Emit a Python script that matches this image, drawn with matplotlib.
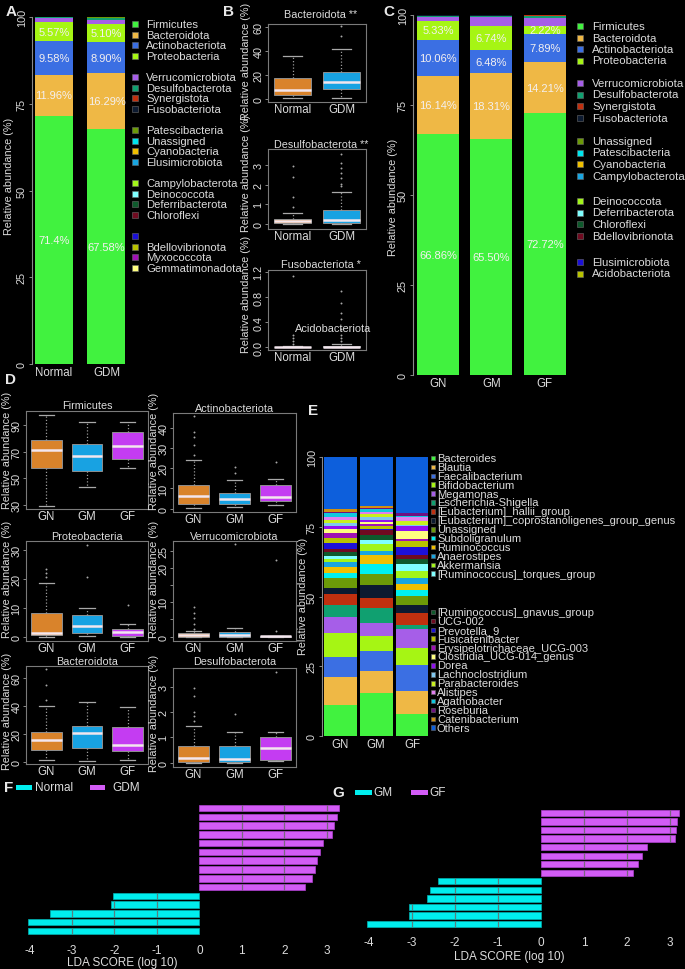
import numpy as np
import matplotlib
matplotlib.use('Agg')
import matplotlib.pyplot as plt
from matplotlib.patches import Rectangle

# ---------------- data ----------------
A_groups = ['Normal', 'GDM']
A_phyla = ['Firmicutes', 'Bacteroidota', 'Actinobacteriota', 'Proteobacteria',
           'Verrucomicrobiota', 'Desulfobacterota', 'Synergistota', 'Fusobacteriota',
           'Patescibacteria', 'Unassigned', 'Cyanobacteria', 'Elusimicrobiota',
           'Campylobacterota', 'Deinococcota', 'Deferribacterota', 'Chloroflexi',
           '', 'Bdellovibrionota', 'Myxococcota', 'Gemmatimonadota']
A_colors = ['#41f23f', '#efb845', '#3b6fe3', '#a6f514',
            '#a65ee8', '#10a070', '#c0300f', '#0c1a30',
            '#6c9a08', '#00e6ee', '#f0c000', '#19a5e0',
            '#a2f51a', '#80ffff', '#0e5a2c', '#700a20',
            '#1c10d8', '#b8c200', '#a012b4', '#ffff80']
A_normal = [71.4, 11.96, 9.58, 5.57, 1.1, 0.25, 0.03, 0.03, 0.02, 0.02,
            0.01, 0.01, 0.01, 0.01, 0.01, 0.01, 0.01, 0.01, 0.0, 0.0]
A_gdm = [67.58, 16.29, 8.90, 5.10, 1.4, 0.4, 0.1, 0.06, 0.05, 0.04,
         0.02, 0.02, 0.02, 0.01, 0.01, 0.01, 0.01, 0.01, 0.01, 0.0]
A_labels = [['71.4%', '11.96%', '9.58%', '5.57%'],
            ['67.58%', '16.29%', '8.90%', '5.10%']]

C_groups = ['GN', 'GM', 'GF']
C_phyla = ['Firmicutes', 'Bacteroidota', 'Actinobacteriota', 'Proteobacteria',
           'Verrucomicrobiota', 'Desulfobacterota', 'Synergistota', 'Fusobacteriota',
           'Unassigned', 'Patescibacteria', 'Cyanobacteria', 'Campylobacterota',
           'Deinococcota', 'Deferribacterota', 'Chloroflexi', 'Bdellovibrionota',
           'Elusimicrobiota', 'Acidobacteriota']
C_colors = ['#41f23f', '#efb845', '#3b6fe3', '#a6f514',
            '#a65ee8', '#10a070', '#c0300f', '#0c1a30',
            '#6c9a08', '#00e6ee', '#f0c000', '#19a5e0',
            '#a2f51a', '#80ffff', '#0e5a2c', '#700a20',
            '#1c10d8', '#b8c200']
C_gn = [66.86, 16.14, 10.06, 5.33, 1.1, 0.3, 0.05, 0.05, 0.03, 0.02, 0.02, 0.01, 0.01, 0.01, 0.01, 0.0, 0.0, 0.0]
C_gm = [65.50, 18.31, 6.48, 6.74, 2.4, 0.25, 0.15, 0.05, 0.04, 0.03, 0.02, 0.02, 0.01, 0.0, 0.0, 0.0, 0.0, 0.0]
C_gf = [72.72, 14.21, 7.89, 2.22, 2.2, 0.6, 0.05, 0.05, 0.03, 0.02, 0.01, 0.01, 0.0, 0.0, 0.0, 0.0, 0.0, 0.0]
C_labels = [['66.86%', '16.14%', '10.06%', '5.33%'],
            ['65.50%', '18.31%', '6.48%', '6.74%'],
            ['72.72%', '14.21%', '7.89%', '2.22%']]

B_titles = ['Bacteroidota **', 'Desulfobacterota **', 'Fusobacteriota *']
B_groups = ['Normal', 'GDM']
B_lo = [[0.3, 0.3], [0.0, 0.0], [0.0, 0.0]]
B_q1 = [[2.9, 8.2], [0.03, 0.03], [0.0, 0.002]]
B_med = [[7.4, 14.0], [0.13, 0.22], [0.005, 0.01]]
B_q3 = [[17.0, 22.4], [0.28, 0.72], [0.012, 0.03]]
B_hi = [[36.0, 42.0], [0.55, 1.62], [0.025, 0.06]]
B_fl = [[[], [53.0, 61.4]],
        [[0.88, 1.35, 2.4, 2.96], [1.95, 2.05, 2.35, 2.6, 2.85, 3.1, 3.55]],
        [[0.06, 0.1, 0.15, 0.2, 1.13], [0.1, 0.15, 0.2, 0.3, 0.45, 0.55, 0.7, 0.89]]]

D_titles = ['Firmicutes', 'Actinobacteriota', 'Proteobacteria',
            'Verrucomicrobiota', 'Bacteroidota', 'Desulfobacterota']
D_groups = ['GN', 'GM', 'GF']
D_lo = [[29.3, 43, 57.3], [0.3, 0.8, 1.7], [0, 0.3, 0], [0, 0, 0], [1.2, 0.7, 1.2], [0, 0, 0.05]]
D_q1 = [[57.3, 55, 64.3], [2.5, 2.5, 3.6], [0.6, 1.2, 0.35], [0, 0, 0], [8.4, 9.8, 7.4], [0.03, 0.03, 0.09]]
D_med = [[71, 66.8, 73.8], [6.3, 4.6, 5.6], [1.5, 3.6, 1.7], [0.5, 0.4, 0.1], [15.6, 20.3, 12], [0.2, 0.16, 0.58]]
D_q3 = [[78.5, 76, 85], [11.6, 7.8, 11.6], [8.1, 7.5, 2.9], [1.0, 1.3, 0.2], [21, 25.4, 24.6], [0.64, 0.66, 1.0]]
D_hi = [[97.2, 92.5, 92.5], [24.3, 14, 14.9], [18.5, 10.1, 4.3], [1.6, 2.6, 0.3], [40.2, 43, 39.5], [1.43, 1.2, 1.2]]
D_fl = [[[], [], []],
        [[26.4, 31.7, 35.5, 38, 46], [17.7, 20.7], [23.1]],
        [[20.5, 21.9, 23.4], [20.5, 31.7], [11.1]],
        [[2.3, 3.7, 5.4, 6.9, 8.6], [27.0], [1.5, 22.5]],
        [[44.3, 55.3, 66.5], [], []],
        [[1.66, 1.86, 2.0, 2.62, 2.94], [1.93], [3.6]]]

E_groups = ['GN', 'GM', 'GF']
E_genera = ['Bacteroides', 'Blautia', 'Faecalibacterium', 'Bifidobacterium', 'Megamonas',
            'Escherichia-Shigella', '[Eubacterium]_hallii_group',
            '[Eubacterium]_coprostanoligenes_group_genus', 'Unassigned', 'Subdoligranulum',
            'Ruminococcus', 'Anaerostipes', 'Akkermansia', '[Ruminococcus]_torques_group',
            '[Ruminococcus]_gnavus_group', 'UCG-002', 'Prevotella_9', 'Fusicatenibacter',
            'Erysipelotrichaceae_UCG-003', 'Clostridia_UCG-014_genus', 'Dorea',
            'Lachnoclostridium', 'Parabacteroides', 'Alistipes', 'Agathobacter',
            'Roseburia', 'Catenibacterium', 'Others']
E_colors = ['#41f23f', '#efb845', '#3b6fe3', '#a6f514', '#a65ee8', '#10a070', '#c0300f',
            '#0c1a30', '#6c9a08', '#00f0f0', '#f0c000', '#19a5e0', '#a2f51a', '#80ffff',
            '#0e5a2c', '#700a20', '#1c10d8', '#b8c200', '#a012b4', '#ffff80', '#9010f0',
            '#80c8f0', '#c8f020', '#e080f0', '#10c8e0', '#701080', '#d09010', '#0d5fdc']
E_gn = [11.1, 10.0, 7.2, 8.6, 5.8, 4.2, 3.9, 2.4, 3.3, 1.8, 2.3, 1.9, 1.1, 1.0,
        1.5, 1.1, 1.8, 1.8, 2.1, 1.2, 1.2, 1.0, 1.1, 1.0, 1.4, 0.6, 1.0, 18.6]
E_gm = [15.4, 7.9, 7.2, 5.4, 4.5, 5.6, 3.3, 5.0, 3.6, 3.6, 3.2, 1.6, 2.4, 1.4,
        1.9, 2.0, 0.2, 1.2, 0.6, 0.6, 0.9, 0.9, 1.0, 1.0, 0.9, 0.5, 0.6, 17.6]
E_gf = [7.9, 8.2, 9.3, 6.3, 6.6, 1.6, 4.2, 3.0, 3.2, 2.1, 2.0, 2.4, 2.4, 2.6,
        1.6, 1.4, 3.0, 2.1, 0.8, 2.7, 1.8, 0.5, 1.2, 1.5, 0.4, 1.0, 0.3, 19.9]

F_groups = ['Normal', 'GDM']
F_gdm = [3.29, 3.23, 3.16, 3.11, 2.90, 2.83, 2.76, 2.72, 2.65, 2.48]
F_normal = [-2.04, -2.09, -3.52, -4.03, -4.03]
G_groups = ['GM', 'GF']
G_gf = [3.21, 3.16, 3.14, 3.12, 2.46, 2.34, 2.25, 2.14]
G_gm = [-2.39, -2.58, -2.66, -3.07, -3.07, -4.04]
LDA_ticks = [-4, -3, -2, -1, 0, 1, 2, 3]

BOX_COLORS = ['#d9832b', '#18a2e2', '#c43cf2']
CYAN = '#00eeee'
PURP = '#d35cf6'

# ---------------- figure ----------------
W, H = 685, 970
plt.rcParams['font.family'] = ['Liberation Sans', 'DejaVu Sans']
plt.rcParams['axes.unicode_minus'] = False
fig = plt.figure(figsize=(W / 100, H / 100), dpi=100)
fig.patch.set_facecolor('black')

TXT = '#dcdcdc'
EDGE = '#8a8a8a'
FS = 7.8


def pxax(x0, y0, x1, y1):
    ax = fig.add_axes([x0 / W, 1 - y1 / H, (x1 - x0) / W, (y1 - y0) / H])
    ax.set_facecolor('black')
    return ax


ov = fig.add_axes([0, 0, 1, 1], zorder=20)
ov.set_xlim(0, W)
ov.set_ylim(H, 0)
ov.axis('off')
ov.patch.set_alpha(0)


def T(x, y, s, **kw):
    kw.setdefault('color', TXT)
    kw.setdefault('fontsize', FS)
    kw.setdefault('ha', 'center')
    kw.setdefault('va', 'center')
    ov.text(x, y, s, **kw)


def style_y(ax, ticks, labels=None, pad=1.2, length=2.5):
    ax.set_yticks(ticks)
    if labels is not None:
        ax.set_yticklabels(labels)
    ax.tick_params(axis='y', colors=EDGE, labelcolor=TXT, labelsize=FS,
                   length=length, width=0.7, pad=pad)
    for t in ax.get_yticklabels():
        t.set_rotation(90)
        t.set_va('center')


def stacked(ax, samples, colors, width, names, pct_labels=None):
    mat = np.array(samples, dtype=float)
    x = np.arange(mat.shape[0])
    bottom = np.zeros(mat.shape[0])
    for j, c in enumerate(colors):
        ax.bar(x, mat[:, j], bottom=bottom, width=width, color=c, linewidth=0)
        if pct_labels is not None and j < len(pct_labels[0]):
            for i in x:
                ax.text(i, bottom[i] + mat[i, j] / 2, pct_labels[i][j], ha='center',
                        va='center', color='#f4f0f0', fontsize=8)
        bottom += mat[:, j]
    ax.set_ylim(0, 100)
    for s in ['top', 'right', 'bottom']:
        ax.spines[s].set_visible(False)
    ax.spines['left'].set_color(EDGE)
    ax.spines['left'].set_bounds(0, 100)
    ax.set_xticks(x)
    ax.set_xticklabels(names)
    ax.tick_params(axis='x', length=0, pad=1.5, labelsize=8.3, labelcolor=TXT)
    style_y(ax, [0, 25, 50, 75, 100])


def boxpanel(ax, lo, q1, med, q3, hi, fl, names, ylim, yticks, ylabels=None):
    n = len(med)
    stats = [dict(whislo=lo[i], q1=q1[i], med=med[i], q3=q3[i], whishi=hi[i],
                  fliers=fl[i]) for i in range(n)]
    bp = ax.bxp(stats, positions=np.arange(1, n + 1), widths=0.76, patch_artist=True,
                capwidths=0.38, manage_ticks=False,
                boxprops=dict(edgecolor='#8e8e8e', linewidth=0.7),
                medianprops=dict(color='#f3e6ee', linewidth=1.8),
                whiskerprops=dict(color='#9a9a9a', linestyle=(0, (1, 1.6)), linewidth=0.9),
                capprops=dict(color='#a8a8a8', linewidth=0.9),
                flierprops=dict(marker='o', markersize=1.4, markerfacecolor='#a8a8a8',
                                markeredgecolor='none', linestyle='none'))
    for p, c in zip(bp['boxes'], BOX_COLORS):
        p.set_facecolor(c)
    ax.set_xlim(0.5, n + 0.5)
    ax.set_ylim(*ylim)
    ax.set_xticks(np.arange(1, n + 1))
    ax.set_xticklabels(names)
    ax.tick_params(axis='x', length=0, pad=1.0, labelsize=8.3, labelcolor=TXT)
    style_y(ax, yticks, ylabels, pad=0.8)
    for s in ax.spines.values():
        s.set_color('#7a7a7a')
        s.set_linewidth(0.8)


def legend_block(names, colors, x_sq, x_txt, ys, size, fs):
    for nme, c, y in zip(names, colors, ys):
        ov.add_patch(Rectangle((x_sq - size / 2, y - size / 2), size, size,
                               facecolor=c, edgecolor='#6a6a6a', lw=0.4))
        ov.text(x_txt, y, nme, color=TXT, fontsize=fs, va='center', ha='left')


def lda(ax, pos_vals, neg_vals, xlim, pad):
    vals = list(pos_vals) + list(neg_vals)
    cols = [PURP] * len(pos_vals) + [CYAN] * len(neg_vals)
    edges = ['#b040d0'] * len(pos_vals) + ['#00b0b0'] * len(neg_vals)
    y = np.arange(len(vals))
    ax.barh(y, vals, height=0.74, color=cols, edgecolor=edges, linewidth=0.5)
    for yi, v in zip(y, vals):
        ks = [np.sign(v) * k for k in range(1, 5) if k < abs(v) - 0.05]
        ax.vlines(ks, yi - 0.37, yi + 0.37, color='#6a6a6a', lw=0.9, alpha=0.85, zorder=3)
    ax.set_ylim(len(vals) - 0.5, -0.5)
    ax.set_xlim(*xlim)
    ax.set_xticks(LDA_ticks)
    ax.set_yticks([])
    for s in ax.spines.values():
        s.set_visible(False)
    ax.tick_params(axis='x', length=0, labelsize=8.5, labelcolor=TXT, pad=pad)


YL = 'Relative abundance (%)'

# ---- Panel A ----
axA = pxax(32, 18, 130, 365)
stacked(axA, [A_normal, A_gdm], A_colors, 0.724, A_groups, A_labels)
axA.set_xlim(-0.419, 1.448)
T(9, 176, YL, rotation=90)
T(11, 12, 'A', fontsize=11, fontweight='bold', color='#e8e8e8')
A_ys = [25 + (k // 4) * 53 + (k % 4) * 10.7 for k in range(len(A_phyla))]
legend_block(A_phyla, A_colors, 135, 146, A_ys, 6, 8.1)

# ---- Panel B ----
T(229, 12, 'B', fontsize=11, fontweight='bold', color='#e8e8e8')
B_boxes = [(268, 25, 366, 103), (268, 150, 366, 230), (268, 271, 366, 351)]
B_ylims = [(-2.9, 62.8), (-0.25, 3.8), (-0.04, 1.23)]
B_yticks = [[0, 20, 40, 60], [0, 1, 2, 3], [0.0, 0.4, 0.8, 1.2]]
B_ytl = [None, None, ['0.0', '0.4', '0.8', '1.2']]
B_title_y = [15, 145, 265]
B_ylab_y = [61, 173, 294]
for k in range(3):
    ax = pxax(*B_boxes[k])
    boxpanel(ax, B_lo[k], B_q1[k], B_med[k], B_q3[k], B_hi[k], B_fl[k], B_groups,
             B_ylims[k], B_yticks[k], B_ytl[k])
    T((B_boxes[k][0] + B_boxes[k][2]) / 2 + 4, B_title_y[k], B_titles[k])
    T(246, B_ylab_y[k], YL, rotation=90)
T(295, 329, 'Acidobacteriota', ha='left', fontsize=7.9)

# ---- Panel C ----
axC = pxax(413, 16, 570, 376)
stacked(axC, [C_gn, C_gm, C_gf], C_colors, 0.785, C_groups, C_labels)
axC.set_xlim(-0.467, 2.47)
T(393, 197, YL, rotation=90)
T(389, 12, 'C', fontsize=11, fontweight='bold', color='#e8e8e8')
C_starts = [27, 84, 142, 202, 263]
C_ys = [C_starts[k // 4] + (k % 4) * 11.5 for k in range(len(C_phyla))]
legend_block(C_phyla, C_colors, 580, 592, C_ys, 6, 8.2)

# ---- Panel D ----
T(11, 380, 'D', fontsize=11, fontweight='bold', color='#e8e8e8')
D_boxes = [(26, 412, 148, 510), (173, 414, 296, 513), (26, 542, 148, 642),
           (173, 542, 296, 642), (26, 667, 148, 765), (173, 669, 296, 768)]
D_ylims = [(26.75, 100.5), (-1.65, 47.4), (-1.4, 33), (-1.3, 28), (-1.7, 68.9), (-0.17, 3.74)]
D_yticks = [[30, 50, 70, 90], [0, 10, 20, 30, 40], [0, 10, 20, 30],
            [0, 5, 10, 15, 20, 25], [0, 20, 40, 60], [0, 1, 2, 3]]
D_ytl = [None, None, None, ['0', '', '10', '', '20', '25'], None, None]
D_title_y = [406, 409, 537, 537, 662, 662]
D_ylab = [(7, 450), (154, 451), (7, 579), (154, 579), (7, 711), (154, 713)]
for k in range(6):
    ax = pxax(*D_boxes[k])
    boxpanel(ax, D_lo[k], D_q1[k], D_med[k], D_q3[k], D_hi[k], D_fl[k], D_groups,
             D_ylims[k], D_yticks[k], D_ytl[k])
    T((D_boxes[k][0] + D_boxes[k][2]) / 2, D_title_y[k], D_titles[k])
    T(D_ylab[k][0], D_ylab[k][1], YL, rotation=90)

# ---- Panel E ----
axE = pxax(322, 458, 432, 737)
stacked(axE, [E_gn, E_gm, E_gf], E_colors, 0.92, E_groups)
axE.set_xlim(-0.517, 2.56)
T(303, 596, YL, rotation=90)
T(313, 411, 'E', fontsize=11, fontweight='bold', color='#e8e8e8')
E_ys = [(459 if k < 14 else 613) + (k % 14) * 8.9 for k in range(len(E_genera))]
legend_block(E_genera, E_colors, 433, 437, E_ys, 4.6, 8.0)

# ---- Panel F ----
axF = pxax(20, 804.6, 340, 936.4)
lda(axF, F_gdm, F_normal, (-4.22, 3.31), 6.3)
T(122, 963, 'LDA SCORE (log 10)', fontsize=8.5)
T(9, 788, 'F', fontsize=11, fontweight='bold', color='#e8e8e8')
ov.add_patch(Rectangle((16, 785.5), 16, 5, facecolor=CYAN, edgecolor='none'))
T(35, 788, F_groups[0], ha='left', fontsize=8.5)
ov.add_patch(Rectangle((90, 785.5), 15, 5, facecolor=PURP, edgecolor='none'))
T(112, 788, F_groups[1], ha='left', fontsize=8.5)

# ---- Panel G ----
axG = pxax(355, 809.7, 680, 929.3)
lda(axG, G_gf, G_gm, (-4.33, 3.23), 5.8)
T(509, 957, 'LDA SCORE (log 10)', fontsize=8.5)
T(338, 793, 'G', fontsize=11, fontweight='bold', color='#e8e8e8')
ov.add_patch(Rectangle((355, 790.5), 17, 5, facecolor=CYAN, edgecolor='none'))
T(373, 793, G_groups[0], ha='left', fontsize=8.5)
ov.add_patch(Rectangle((411, 790.5), 17, 5, facecolor=PURP, edgecolor='none'))
T(429, 793, G_groups[1], ha='left', fontsize=8.5)

fig.savefig('out.png', dpi=100, facecolor='black')
